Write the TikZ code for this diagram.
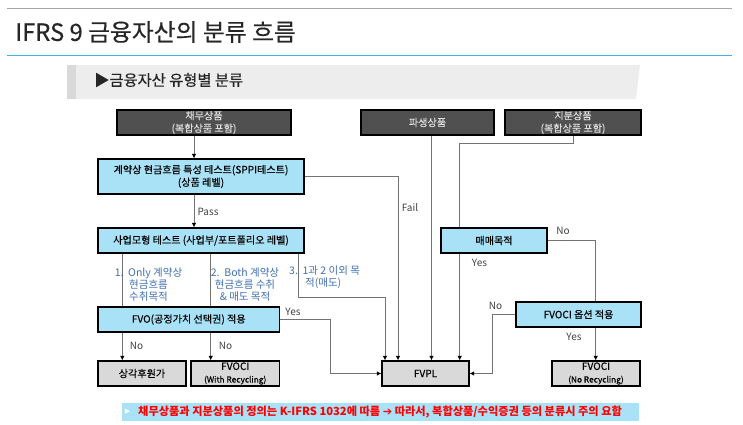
\documentclass[tikz,border=0pt]{standalone}
\usepackage{fontspec}
\setmainfont{Noto Sans CJK KR}
\newfontfamily\medfont[FakeBold=0.35]{Noto Sans CJK KR}
\newfontfamily\symfont{DejaVu Sans}
\usepackage{xcolor}
\usepackage{tikz}
\usetikzlibrary{arrows.meta}
\definecolor{darkbox}{HTML}{505050}
\definecolor{testblue}{HTML}{A9E2F6}
\definecolor{endgray}{HTML}{D9D9D9}
\definecolor{linegray}{HTML}{737373}
\definecolor{notered}{HTML}{FF0000}
\definecolor{routeblue}{HTML}{3F6FB0}
\definecolor{ruleblue}{HTML}{45B0E6}

\begin{document}
\begin{tikzpicture}[x=1pt,y=-1pt]
	
	\tikzstyle{boxbase} = [draw=black,line width=1.1pt,inner sep=0pt,align=center,font=\medfont\fontsize{10.1}{12.6}\selectfont]
	\tikzstyle{source} = [boxbase,fill=darkbox,text=white!88!black,minimum height=25pt]
	\tikzstyle{test} = [boxbase,fill=testblue,minimum height=25pt]
	\tikzstyle{result} = [boxbase,fill=endgray,minimum height=25pt]
	\tikzstyle{conn} = [draw=linegray,line width=0.9pt]
	\tikzstyle{flow} = [conn,-{Latex[black,length=4.5pt,width=4.5pt]}]
	\tikzstyle{tag} = [inner sep=0pt,text=black!75,font=\fontsize{10}{11}\selectfont]
	\tikzstyle{route} = [inner sep=0pt,align=center,text=routeblue,font=\fontsize{10.5}{12}\selectfont]
	
	\useasboundingbox (0,0) rectangle (743,424);
	
	% title
	\draw[black!35,line width=0.8pt] (7,8.5) -- (732,8.5);
	\node[anchor=west,inner sep=0pt,text=black!85,font=\medfont\fontsize{23.8}{26}\selectfont] (title) at (15,32) {IFRS 9 금융자산의 분류 흐름};
	\draw[ruleblue,line width=0.8pt] (7,55) -- (732,55);
	
	% banner
	\fill[black!7] (67,65) -- (640,65) -- (636,99) -- (67,99) -- cycle;
	\fill[black!15] (67,65) rectangle (76,99);
	\node[anchor=west,inner sep=0pt,text=black!85,font=\medfont\fontsize{15.3}{17}\selectfont] (banner) at (94,80) {▶금융자산 유형별 분류};
	
	% boxes
	\node[source,minimum width=174pt] (debt) at (204,122.5) {채무상품\\(복합상품 포함)};
	\node[source,minimum width=133pt] (deriv) at (427.5,122.5) {파생상품};
	\node[source,minimum width=136pt] (equity) at (573,122.5) {지분상품\\(복합상품 포함)};
	
	\node[test,minimum width=206pt,minimum height=35pt] (sppi) at (201,176.5) {계약상 현금흐름 특성 테스트(SPPI테스트)\\(상품 레벨)};
	\node[test,minimum width=206pt] (model) at (201,240.5) {사업모형 테스트 (사업부/포트폴리오 레벨)};
	\node[test,minimum width=181.5pt] (fvo) at (188.75,319.5) {FVO(공정가치 선택권) 적용};
	\node[test,minimum width=106pt] (trade) at (494,240.5) {매매목적};
	\node[test,minimum width=125pt] (option) at (578.5,314.5) {FVOCI 옵션 적용};
	
	\node[result,minimum width=88pt] (amort) at (142,373.5) {상각후원가};
	\node[result,minimum width=88.5pt] (recycle) at (235.25,373.5) {FVOCI\\{\fontsize{8.3}{10}\selectfont (With Recycling)}};
	\node[result,minimum width=87pt] (fvpl) at (425.5,373.5) {FVPL};
	\node[result,minimum width=88pt] (norecycle) at (596,373.5) {FVOCI\\{\fontsize{8.3}{10}\selectfont (No Recycling)}};
	
	% note
	\fill[testblue] (122,403) rectangle (639,421);
	\node[inner sep=0pt,text=white,font=\symfont\fontsize{7}{8}\selectfont] (mark) at (127.5,412) {▶};
	\node[anchor=west,inner sep=0pt,text=notered,font=\bfseries\fontsize{11.2}{12}\selectfont] (note) at (138,412) {채무상품과 지분상품의 정의는 K-IFRS 1032에 따름 {\symfont\bfseries ➔} 따라서, 복합상품/수익증권 등의 분류시 주의 요함};
	
	% line positions
	\coordinate (xa) at (194,0);
	\coordinate (xb) at (122.3,0);
	\coordinate (xc) at (210.7,0);
	\coordinate (xd) at (298,0);
	\coordinate (xe) at (385,0);
	\coordinate (xf) at (398,0);
	\coordinate (xg) at (431.5,0);
	\coordinate (xh) at (459.7,0);
	\coordinate (xi) at (595.7,0);
	\coordinate (bend3) at (385,297);
	\coordinate (bendyes) at (330.7,373.5);
	\coordinate (bendno) at (492,373.5);
	\coordinate (bendeq) at (459.7,143.5);
	
	% connectors
	\draw[flow] (debt.south -| xa) -- (sppi.north -| xa);
	\draw[flow] (sppi.south -| xa) -- (model.north -| xa);
	\draw[flow] (sppi.east) -| (fvpl.north -| xf);
	\draw[conn] (model.south -| xb) -- (fvo.north -| xb);
	\draw[conn] (model.south -| xc) -- (fvo.north -| xc);
	\draw[flow] (model.south -| xd) |- (bend3) -- (fvpl.north -| xe);
	\draw[flow] (deriv.south -| xg) -- (fvpl.north -| xg);
	\draw[conn] (equity.south) |- (bendeq) -- (trade.north -| xh);
	\draw[flow] (trade.south -| xh) -- (fvpl.north -| xh);
	\draw[conn] (trade.east) -| (option.north -| xi);
	\draw[flow] (option.south -| xi) -- (norecycle.north -| xi);
	\draw[flow] (option.west) -| (bendno) -- (fvpl.east);
	\draw[flow] (fvo.east) -| (bendyes) -- (fvpl.west);
	\draw[flow] (fvo.south -| xb) -- (amort.north -| xb);
	\draw[flow] (fvo.south -| xc) -- (recycle.north -| xc);
	
	% labels
	\node[tag] (lpass) at (208,212) {Pass};
	\node[tag] (lfail) at (410,208) {Fail};
	\node[tag] (lno1) at (136.5,346) {No};
	\node[tag] (lno2) at (225.5,346) {No};
	\node[tag] (lyes1) at (293,312) {Yes};
	\node[tag] (lno3) at (563,230.5) {No};
	\node[tag] (lyes2) at (479.5,262.5) {Yes};
	\node[tag] (lno4) at (495.5,306) {No};
	\node[tag] (lyes3) at (574,337) {Yes};
	
	\node[route] (r1) at (148.5,285) {1.\ \ Only 계약상\\현금흐름\\수취목적};
	\node[route] (r2) at (245,285) {2.\ \ Both 계약상\\현금흐름 수취\\\& 매도 목적};
	\node[route,anchor=north west,align=left] (r3) at (289,265.5) {3.\ \ 1과 2 이외 목\\\hspace*{16pt}적(매도)};
	
\end{tikzpicture}
\end{document}
